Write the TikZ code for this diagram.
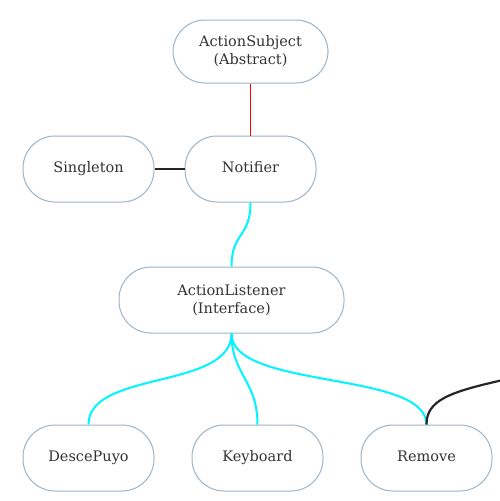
\documentclass[tikz,border=0pt]{standalone}
\usepackage{fontspec}
\setmainfont{DejaVu Serif}
\begin{document}
\begin{tikzpicture}[x=1pt,y=-1pt,
  pill/.style={draw=bordc, line width=1pt, fill=white, rounded corners=32pt,
    minimum height=64pt, inner sep=0pt, align=center, text=textc,
    font=\fontsize{14.5}{18}\selectfont},
  cyanedge/.style={draw=cyan, line width=2pt},
  rededge/.style={draw=red, line width=1.8pt},
  blackedge/.style={draw=black!85, line width=2.2pt}]
\definecolor{bordc}{HTML}{9DB3C6}
\definecolor{textc}{HTML}{333333}
\definecolor{cyan}{HTML}{00F5FF}
\useasboundingbox (0,0) rectangle (500,501);
\node[pill, minimum width=155pt, minimum height=63pt] (subj) at (250.5,51.5) {ActionSubject\\(Abstract)};
\node[pill, minimum width=131pt, minimum height=66pt] (single) at (88.5,169) {\strut Singleton};
\node[pill, minimum width=131pt, minimum height=66pt] (notif) at (250.5,169) {\strut Notifier};
\node[pill, minimum width=225pt, minimum height=66pt] (al) at (231.5,300) {ActionListener\\(Interface)};
\node[pill, minimum width=131pt, minimum height=66pt] (desc) at (88.5,458) {\strut DescePuyo};
\node[pill, minimum width=131pt, minimum height=66pt] (key) at (257.5,458) {\strut Keyboard};
\node[pill, minimum width=131pt, minimum height=66pt] (rem) at (426.5,458) {\strut Remove};
\coordinate (off) at (503,380);
\draw[rededge] (subj.south) -- (notif.north);
\draw[blackedge] (single.east) -- (notif.west);
\draw[cyanedge] (notif.south) .. controls (250.5,238) and (231.5,232) .. (al.north);
\draw[cyanedge] (al.south) .. controls (231.5,390) and (88.5,370) .. (desc.north);
\draw[cyanedge] (al.south) .. controls (231.5,375) and (257.5,380) .. (key.north);
\draw[cyanedge] (al.south) .. controls (231.5,390) and (426.5,370) .. (rem.north);
\draw[blackedge] (rem.north) .. controls (426.5,400) and (450,392) .. (off);
\end{tikzpicture}
\end{document}
